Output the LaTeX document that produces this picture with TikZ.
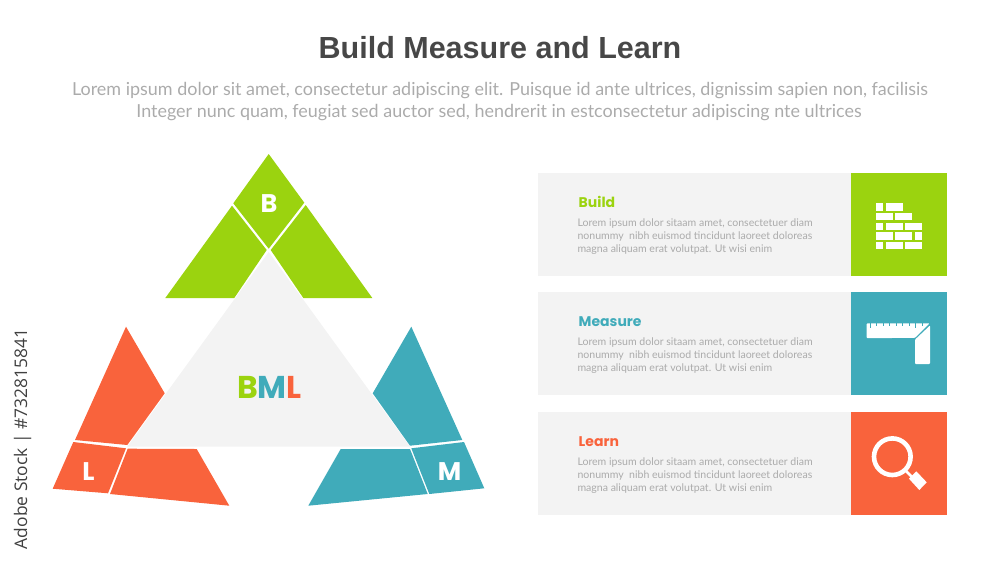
\documentclass[tikz,border=0pt]{standalone}
\usepackage{fontspec}
\usepackage{xcolor}
\setmainfont{Lato}
\newfontfamily\headfont{Liberation Sans}
\newfontfamily\labelfont{Poppins}
\newfontfamily\stockfont{Open Sans}
\definecolor{bmlgreen}{HTML}{9BD30F}
\definecolor{bmlteal}{HTML}{40ABBA}
\definecolor{bmlred}{HTML}{F9633C}
\definecolor{bmlgray}{HTML}{F3F3F3}
\definecolor{bmltext}{HTML}{ABABAB}
\tikzset{
    titletext/.style = {anchor = base, text = black!72, font = \headfont\bfseries\fontsize{30.5}{36}\selectfont},
    subtext/.style = {anchor = base, text = bmltext, font = \fontsize{17.95}{22}\selectfont},
    letter/.style = {text = white, font = \labelfont\bfseries\fontsize{25.5}{28}\selectfont},
    headtext/.style = {anchor = base west, inner sep = 0pt, font = \labelfont\bfseries\fontsize{14}{16}\selectfont},
    bodytext/.style = {anchor = base west, inner sep = 0pt, text = bmltext, font = \fontsize{10.55}{13}\selectfont}
}
\begin{document}
\begin{tikzpicture}[x = 1pt, y = -1pt]
        \useasboundingbox (0,0) rectangle (1000,563);
        \node[titletext] (ntitle) at (500,58) {Build Measure and Learn};
        \node[subtext] (nsuba) at (500,95) {Lorem ipsum dolor sit amet, consectetur adipiscing elit. Puisque id ante ultrices, dignissim sapien non, facilisis};
        \node[subtext] (nsubb) at (499,117) {Integer nunc quam, feugiat sed auctor sed, hendrerit in estconsectetur adipiscing nte ultrices};
        % triangle
        \fill[bmlgray] (268.7,252) -- (410,446.7) -- (127.3,446.7) -- cycle;
        \fill[bmlgreen] (268.7,154) -- (304.3,202.7) -- (268.7,248.7) -- (233.3,203.3) -- cycle;
        \fill[bmlgreen] (232,205.7) -- (266.7,250) -- (234.3,298) -- (165.3,298) -- cycle;
        \fill[bmlgreen] (305.7,205) -- (270.7,250) -- (303.3,298) -- (372.3,298) -- cycle;
        \fill[bmlred] (126,326.7) -- (164.7,393.3) -- (127.3,445) -- (75,440) -- cycle;
        \fill[bmlred] (73.3,442) -- (126,448.3) -- (108,493.3) -- (52.7,488.7) -- cycle;
        \fill[bmlred] (127.7,448.7) -- (196.7,449) -- (229.3,505.7) -- (110,494) -- cycle;
        \fill[bmlteal] (411.3,326.7) -- (372.7,393.3) -- (410,445.7) -- (462.3,440) -- cycle;
        \fill[bmlteal] (411.3,448.3) -- (464,442) -- (484.3,488.3) -- (429.3,494) -- cycle;
        \fill[bmlteal] (340.7,449) -- (410,449) -- (427.7,494) -- (308.3,505.7) -- cycle;
        \node[letter] (nb) at (269,203.5) {B};
        \node[letter] (nl) at (88.5,472) {L};
        \node[letter] (nm) at (449.5,472) {M};
        \node[anchor = base, font = \labelfont\bfseries\fontsize{31.5}{34}\selectfont] (nbml) at (269.5,398)
                {\textcolor{bmlgreen}{B}\textcolor{bmlteal}{M}\textcolor{bmlred}{L}};
        % bars
        \foreach \ytop/\barcol/\word in {173/bmlgreen/Build, 292/bmlteal/Measure, 412/bmlred/Learn} {
            \fill[bmlgray] (537.7,\ytop) rectangle (851.3,\ytop+102.5);
            \fill[\barcol] (851.3,\ytop) rectangle (947.3,\ytop+102.5);
            \node[headtext, text = \barcol] (nh\word) at (578.5,\ytop+34) {\word};
            \node[bodytext] (na\word) at (577.3,\ytop+53) {Lorem ipsum dolor sitaam amet, consectetuer diam};
            \node[bodytext] (nb\word) at (577.3,\ytop+66) {nonummy\ \ nibh euismod tincidunt laoreet doloreas};
            \node[bodytext] (nc\word) at (577.3,\ytop+79) {magna aliquam erat volutpat. Ut wisi enim};
        }
        % bricks
        \foreach \xa/\xb/\row in {876/883.3/0, 885.7/902.7/0,
                876/893/1, 895.3/912.3/1,
                876/883.3/2, 885.7/902.7/2, 905/922.3/2,
                876/893/3, 895.3/912.3/3, 914.7/922.3/3,
                876/883.3/4, 885.7/902.7/4, 905/922.3/4} {
            \fill[white] (\xa,203.3+9.67*\row) rectangle (\xb,210.6+9.67*\row);
        }
        % ruler
        \fill[white, rounded corners = 0.8pt] (866.7,323.3) -- (929.5,323.3) -- (915,337.8) -- (866.7,338.2) -- cycle;
        \fill[white, rounded corners = 0.8pt] (930,325.5) -- (930,364) -- (915,364) -- (915,339.6) -- cycle;
        \foreach \xt/\lt in {867/5, 873.5/3, 880/3, 886.5/3, 893/3, 899.5/3, 906/3, 912.5/5, 919/3} {
            \draw[bmlteal, line width = 0.9pt] (\xt+3,323) -- (\xt+3,323+\lt);
        }
        % magnifier
        \draw[white, line width = 4.6pt] (892.3,456.7) circle (18.3);
        \draw[white, line width = 2.5pt] (904,469) -- (912,477);
        \fill[white] (916.3,471.3) -- (926.7,482.3) -- (919.3,490) -- (909,478.7) -- cycle;
        % side label
        \node[rotate = 90, text = black!75, font = \stockfont\fontsize{17.4}{20}\selectfont] (nstock) at (22.5,439) {Adobe Stock | \#732815841};
\end{tikzpicture}
\end{document}
